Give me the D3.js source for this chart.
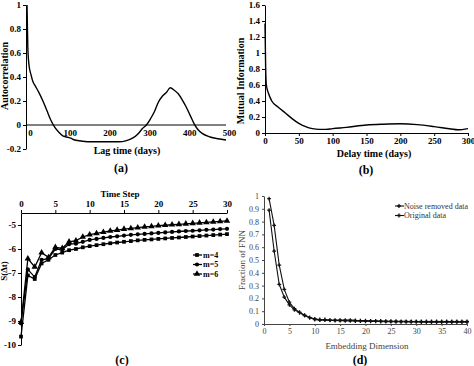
<!DOCTYPE html>
<html>
<head>
<meta charset="utf-8">
<script src="https://cdn.jsdelivr.net/npm/d3@7"></script>
<style>
  body { margin: 0; background: #fff; }
  svg { display: block; }
  .bold text { font-family: "Liberation Serif", serif; font-weight: bold; }
</style>
</head>
<body>
<div id="graph"></div>
<script>
// ---- data ----
const acLag = [0, 2, 5, 10, 15, 20, 30, 40, 50, 60, 70, 80, 90, 100, 110, 120, 140, 160, 200, 230, 250, 265, 280, 290, 300, 310, 320, 330, 340, 350, 360, 370, 380, 390, 400, 410, 420, 430, 440, 460, 480, 500];
const acVal = [1, 0.65, 0.5, 0.42, 0.36, 0.33, 0.27, 0.2, 0.12, 0.04, -0.02, -0.06, -0.09, -0.1, -0.11, -0.125, -0.135, -0.14, -0.14, -0.14, -0.13, -0.11, -0.07, -0.03, 0, 0.05, 0.11, 0.19, 0.24, 0.27, 0.31, 0.29, 0.26, 0.21, 0.15, 0.08, 0.01, -0.04, -0.07, -0.1, -0.115, -0.125];

const miLag = [0, 1, 2, 5, 10, 20, 30, 40, 50, 60, 70, 80, 90, 100, 120, 150, 175, 200, 225, 250, 275, 285, 300];
const miVal = [1.37, 0.8, 0.6, 0.5, 0.4, 0.32, 0.25, 0.18, 0.12, 0.08, 0.055, 0.045, 0.045, 0.055, 0.07, 0.1, 0.11, 0.115, 0.105, 0.08, 0.05, 0.04, 0.055];

const timeStep = d3.range(0, 31);
const sM4 = [-9.65, -7.1, -7.25, -6.6, -6.45, -6.25, -6.15, -6.05, -6.0, -5.93, -5.88, -5.84, -5.80, -5.76, -5.73, -5.70, -5.67, -5.64, -5.62, -5.60, -5.58, -5.56, -5.54, -5.52, -5.50, -5.48, -5.46, -5.44, -5.42, -5.40, -5.38];
const sM5 = [-9.1, -6.85, -7.17, -6.45, -6.4, -6.0, -6.02, -5.8, -5.78, -5.7, -5.62, -5.58, -5.54, -5.50, -5.47, -5.44, -5.41, -5.39, -5.37, -5.35, -5.33, -5.31, -5.29, -5.27, -5.25, -5.24, -5.22, -5.20, -5.19, -5.17, -5.16];
const sM6 = [-9.05, -6.4, -6.75, -6.15, -6.35, -5.93, -5.97, -5.7, -5.65, -5.5, -5.4, -5.35, -5.30, -5.25, -5.21, -5.17, -5.14, -5.11, -5.08, -5.06, -5.03, -5.01, -4.99, -4.97, -4.95, -4.93, -4.91, -4.89, -4.87, -4.85, -4.83];

const embDim = d3.range(1, 41);
const fnnNoise = [0.98, 0.77, 0.46, 0.27, 0.17, 0.12, 0.09, 0.07, 0.05, 0.04, 0.035, 0.035, 0.03, 0.03, 0.03, 0.03, 0.03, 0.028, 0.027, 0.026, 0.025, 0.025, 0.024, 0.023, 0.022, 0.022, 0.021, 0.021, 0.02, 0.02, 0.02, 0.02, 0.02, 0.02, 0.02, 0.02, 0.02, 0.02, 0.02, 0.02];
const fnnOrig = [0.89, 0.57, 0.31, 0.21, 0.15, 0.11, 0.09, 0.065, 0.05, 0.035, 0.03, 0.03, 0.028, 0.027, 0.026, 0.025, 0.024, 0.023, 0.022, 0.021, 0.02, 0.02, 0.019, 0.018, 0.018, 0.017, 0.017, 0.016, 0.016, 0.016, 0.015, 0.015, 0.015, 0.015, 0.015, 0.015, 0.015, 0.015, 0.015, 0.015];

// ---- setup ----
const svg = d3.select('#graph').append('svg').attr('width', 474).attr('height', 366);
const plain = d => String(d);  // hyphen minus, like the source

function styleAxis(sel, color) {
  sel.selectAll('path, line').attr('stroke', color || '#000');
  sel.selectAll('text').attr('fill', color || '#000');
}

// ---- (a) autocorrelation ----
{
  const g = svg.append('g').attr('class', 'bold');
  const x = d3.scaleLinear().domain([0, 500]).range([27, 226]);
  const y = d3.scaleLinear().domain([-0.2, 1]).range([149, 5]);

  g.append('g').attr('transform', 'translate(26,0)')
    .call(d3.axisLeft(y).tickValues([-0.2, 0, 0.2, 0.4, 0.6, 0.8, 1]).tickSize(3).tickSizeOuter(0).tickFormat(plain))
    .call(s => s.selectAll('text').attr('font-size', 9).attr('x', -5))
    .call(styleAxis);

  g.append('g').attr('transform', `translate(0,${y(0)})`)
    .call(d3.axisBottom(x).tickValues([0, 100, 200, 300, 400, 500]).tickSize(0).tickSizeOuter(0))
    .call(s => s.select('.domain').attr('d', `M26,0H${x(500)}`))
    .call(s => s.selectAll('text').attr('font-size', 9).attr('dy', '0.9em').attr('dx', 3))
    .call(styleAxis);

  g.append('path').datum(acLag.map((d, i) => [d, acVal[i]]))
    .attr('fill', 'none').attr('stroke', '#000').attr('stroke-width', 1.4)
    .attr('d', d3.line().x(d => x(d[0])).y(d => y(d[1])).curve(d3.curveMonotoneX));

  g.append('text').attr('x', 127).attr('y', 154).attr('text-anchor', 'middle').attr('font-size', 10).text('Lag time (days)');
  g.append('text').attr('transform', 'translate(8,76) rotate(-90)').attr('text-anchor', 'middle').attr('font-size', 10).text('Autocorrelation');
  g.append('text').attr('x', 121).attr('y', 172).attr('text-anchor', 'middle').attr('font-size', 12).text('(a)');
}

// ---- (b) mutual information ----
{
  const g = svg.append('g').attr('class', 'bold');
  const x = d3.scaleLinear().domain([0, 300]).range([265, 468]);
  const y = d3.scaleLinear().domain([0, 1.6]).range([133, 5]);

  g.append('g').attr('transform', 'translate(265,0)')
    .call(d3.axisLeft(y).tickValues([0, 0.2, 0.4, 0.6, 0.8, 1, 1.2, 1.4, 1.6]).tickSize(3).tickSizeOuter(0).tickFormat(plain))
    .call(s => s.selectAll('text').attr('font-size', 9).attr('x', -5))
    .call(styleAxis);

  g.append('g').attr('transform', 'translate(0,133)')
    .call(d3.axisBottom(x).tickValues([0, 50, 100, 150, 200, 250, 300]).tickSize(3).tickSizeOuter(0))
    .call(s => s.selectAll('text').attr('font-size', 9).attr('dy', '0.6em'))
    .call(styleAxis);

  g.append('path').datum(miLag.map((d, i) => [d, miVal[i]]))
    .attr('fill', 'none').attr('stroke', '#000').attr('stroke-width', 1.4)
    .attr('d', d3.line().x(d => x(d[0])).y(d => y(d[1])).curve(d3.curveMonotoneX));

  g.append('text').attr('x', 374).attr('y', 157).attr('text-anchor', 'middle').attr('font-size', 10).text('Delay time (days)');
  g.append('text').attr('transform', 'translate(244,81) rotate(-90)').attr('text-anchor', 'middle').attr('font-size', 10).text('Mutual Information');
  g.append('text').attr('x', 366).attr('y', 174).attr('text-anchor', 'middle').attr('font-size', 12).text('(b)');
}

// ---- (c) S(Δt) vs time step ----
{
  const g = svg.append('g').attr('class', 'bold');
  const x = d3.scaleLinear().domain([0, 30]).range([21, 227]);
  const y = d3.scaleLinear().domain([-10, -4.5]).range([345, 213]);

  g.append('g').attr('transform', 'translate(21,0)')
    .call(d3.axisLeft(y).tickValues([-10, -9, -8, -7, -6, -5]).tickSize(3).tickSizeOuter(0).tickFormat(plain))
    .call(s => s.selectAll('text').attr('font-size', 9).attr('x', -5))
    .call(styleAxis);

  g.append('g').attr('transform', 'translate(0,213)')
    .call(d3.axisTop(x).tickValues([0, 5, 10, 15, 20, 25, 30]).tickSize(3).tickSizeOuter(0))
    .call(s => s.selectAll('text').attr('font-size', 9))
    .call(styleAxis);

  const series = [
    {name: 'm=4', vals: sM4, sym: d3.symbolSquare, size: 14},
    {name: 'm=5', vals: sM5, sym: d3.symbolCircle, size: 14},
    {name: 'm=6', vals: sM6, sym: d3.symbolTriangle, size: 18}
  ];
  const line = d3.line().x((d, i) => x(timeStep[i])).y(d => y(d));

  series.forEach((s, k) => {
    g.append('path').datum(s.vals)
      .attr('fill', 'none').attr('stroke', '#000').attr('stroke-width', 1.3).attr('d', line);
    g.selectAll(null).data(s.vals).enter().append('path')
      .attr('transform', (d, i) => `translate(${x(timeStep[i])},${y(d)})`)
      .attr('d', d3.symbol(s.sym, s.size)).attr('fill', '#000');

    const ly = 255 + k * 9.5;
    g.append('line').attr('x1', 193).attr('x2', 202).attr('y1', ly).attr('y2', ly).attr('stroke', '#000').attr('stroke-width', 1.3);
    g.append('path').attr('transform', `translate(197,${ly})`).attr('d', d3.symbol(s.sym, s.size)).attr('fill', '#000');
    g.append('text').attr('x', 203).attr('y', ly).attr('dy', '0.33em').attr('font-size', 8).text(s.name);
  });

  g.append('text').attr('x', 120).attr('y', 197).attr('text-anchor', 'middle').attr('font-size', 9).text('Time Step');
  g.append('text').attr('transform', 'translate(7,271) rotate(-90)').attr('text-anchor', 'middle').attr('font-size', 9).text('S(Δt)');
  g.append('text').attr('x', 122).attr('y', 364).attr('text-anchor', 'middle').attr('font-size', 12).text('(c)');
}

// ---- (d) false nearest neighbours ----
{
  const grey = '#444';
  const g = svg.append('g').attr('font-family', '"Liberation Serif", serif');
  const x = d3.scaleLinear().domain([0, 40]).range([264, 467]);
  const y = d3.scaleLinear().domain([0, 1]).range([324, 196]);

  g.append('g').attr('transform', 'translate(264,0)')
    .call(d3.axisLeft(y).tickValues(d3.range(0, 11).map(d => d / 10)).tickSize(2).tickSizeOuter(0).tickFormat(plain))
    .call(s => s.selectAll('text').attr('font-size', 8).attr('x', -5).attr('font-family', '"Liberation Serif", serif'))
    .call(s => styleAxis(s, grey));

  g.append('g').attr('transform', 'translate(0,324)')
    .call(d3.axisBottom(x).tickValues([0, 5, 10, 15, 20, 25, 30, 35, 40]).tickSize(2).tickSizeOuter(0))
    .call(s => s.selectAll('text').attr('font-size', 8).attr('dy', '0.6em').attr('font-family', '"Liberation Serif", serif'))
    .call(s => styleAxis(s, grey));

  const fnn = [
    {name: 'Noise removed data', vals: fnnNoise},
    {name: 'Original data', vals: fnnOrig}
  ];
  const line = d3.line().x((d, i) => x(embDim[i])).y(d => y(d));
  fnn.forEach((s, k) => {
    g.append('path').datum(s.vals)
      .attr('fill', 'none').attr('stroke', '#111').attr('stroke-width', 1.1).attr('d', line);
    g.selectAll(null).data(s.vals).enter().append('path')
      .attr('transform', (d, i) => `translate(${x(embDim[i])},${y(d)})`)
      .attr('d', d3.symbol(d3.symbolCross, 8)).attr('fill', '#111');

    const ly = 206 + k * 9.5;
    g.append('line').attr('x1', 395).attr('x2', 404).attr('y1', ly).attr('y2', ly).attr('stroke', '#111').attr('stroke-width', 1.1);
    g.append('path').attr('transform', `translate(399,${ly})`).attr('d', d3.symbol(d3.symbolCross, 8)).attr('fill', '#111');
    g.append('text').attr('x', 404).attr('y', ly).attr('dy', '0.33em').attr('font-size', 8).attr('fill', '#333').text(s.name);
  });

  g.append('text').attr('x', 367).attr('y', 349).attr('text-anchor', 'middle').attr('font-size', 9).attr('fill', grey).text('Embedding Dimension');
  g.append('text').attr('transform', 'translate(245,260) rotate(-90)').attr('text-anchor', 'middle').attr('font-size', 9).attr('fill', grey).text('Fraction of FNN');
  g.append('text').attr('x', 360).attr('y', 364).attr('text-anchor', 'middle').attr('font-size', 12)
    .attr('font-weight', 'bold').text('(d)');
}
</script>
</body>
</html>
